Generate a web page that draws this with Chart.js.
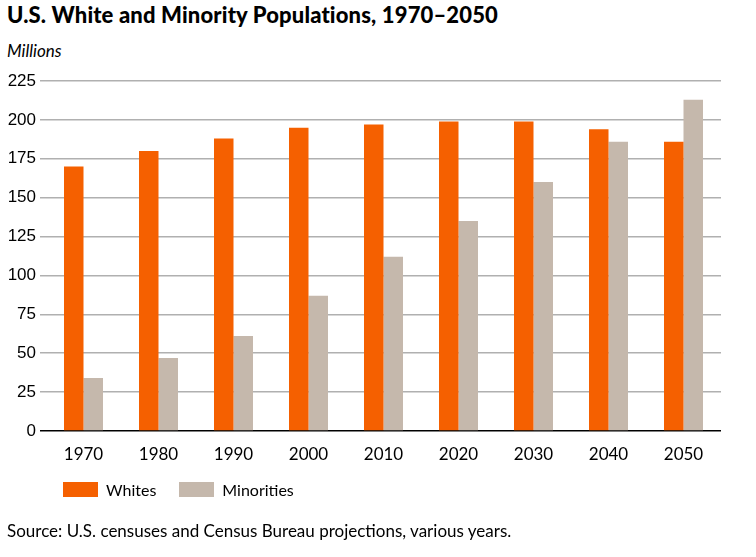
<!DOCTYPE html>
<html lang="en">
<head>
<meta charset="UTF-8">
<title>U.S. White and Minority Populations</title>
<script src="https://cdn.jsdelivr.net/npm/chart.js"></script>
<style>
    * { margin: 0; padding: 0; }
    body { background: #fff; width: 756px; height: 557px; overflow: hidden; }
    .wrap { position: relative; width: 756px; height: 557px; font-family: Lato, "Open Sans", sans-serif; color: #000; }
    .titulo { position: absolute; left: 7px; top: 1px; font-size: 22px; font-weight: 900; letter-spacing: 0.15px; white-space: nowrap; }
    .unidade { position: absolute; left: 7px; top: 40px; font-size: 17px; font-style: italic; }
    .legenda { position: absolute; left: 63px; top: 480px; display: flex; font-size: 16px; }
    .legenda span.item { display: flex; align-items: center; margin-right: 23px; }
    .legenda span.cor { display: inline-block; width: 35px; height: 15px; margin-right: 8px; }
    .fonte { position: absolute; left: 7px; top: 520px; font-size: 17px; white-space: nowrap; }
    canvas { position: absolute; left: 0; top: 0; }
</style>
</head>
<body>
<div class="wrap">
    <div class="titulo">U.S. White and Minority Populations, 1970–2050</div>
    <div class="unidade">Millions</div>
    <canvas id="grafico" width="756" height="557"></canvas>
    <div class="legenda" id="legenda"></div>
    <div class="fonte">Source: U.S. censuses and Census Bureau projections, various years.</div>
</div>
<script>
const anos = ['1970', '1980', '1990', '2000', '2010', '2020', '2030', '2040', '2050'];
const brancos = [170, 180, 188, 195, 197, 199, 199, 194, 186];
const minorias = [34, 47, 61, 87, 112, 135, 160, 186, 213];
const ticksY = [0, 25, 50, 75, 100, 125, 150, 175, 200, 225];

const ctx = document.getElementById('grafico').getContext('2d');
const grafico = new Chart(ctx, {
    type: 'bar',
    data: {
        labels: anos,
        datasets: [
            { label: 'Whites', data: brancos, backgroundColor: '#F56000' },
            { label: 'Minorities', data: minorias, backgroundColor: '#C5B8AC' }
        ]
    },
    options: {
        responsive: false,
        animation: false,
        categoryPercentage: 0.52,
        barPercentage: 1,
        layout: { padding: { top: 81, right: 35, bottom: 76, left: 0 } },
        plugins: {
            legend: { display: false },
            tooltip: { enabled: false }
        },
        scales: {
            x: {
                grid: { display: false },
                border: { display: false },
                ticks: { color: '#000', padding: 5, font: { family: 'Lato', size: 17 } },
                afterFit: (scale) => { scale.height = 50; }
            },
            y: {
                min: 0,
                max: 225,
                afterBuildTicks: (scale) => { scale.ticks = ticksY.map(v => ({ value: v })); },
                afterFit: (scale) => { scale.width = 46; },
                border: { display: false },
                grid: {
                    color: (c) => c.tick && c.tick.value === 0 ? '#000' : '#b0b0b0',
                    lineWidth: 1.5,
                    tickLength: 6
                },
                ticks: { color: '#000', padding: 4, font: { family: 'Liberation Sans', size: 17 } }
            }
        }
    }
});

// legenda em html a partir dos datasets
const legenda = document.getElementById('legenda');
grafico.data.datasets.forEach(ds => {
    legenda.innerHTML += `<span class="item"><span class="cor" style="background:${ds.backgroundColor}"></span>${ds.label}</span>`;
});
</script>
</body>
</html>
